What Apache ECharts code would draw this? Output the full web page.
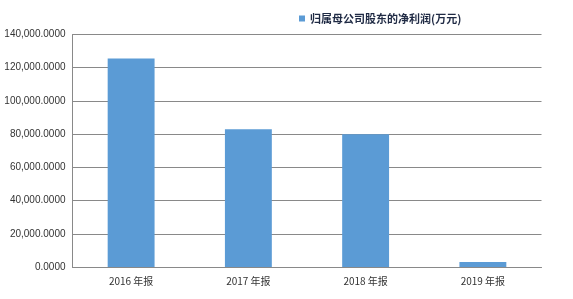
<!DOCTYPE html>
<html>
<head>
<meta charset="utf-8">
<script src="https://cdn.jsdelivr.net/npm/echarts@6/dist/echarts.min.js"></script>
<style>html,body{margin:0;padding:0;background:#fff;}#c{width:573px;height:299px;}</style>
</head>
<body>
<div id="c"></div>
<script>
const categories = ['2016 年报', '2017 年报', '2018 年报', '2019 年报'];
const seriesName = '归属母公司股东的净利润(万元)';
const values = [125500, 83000, 80000, 3000];
const yTicks = { min: 0, max: 140000, interval: 20000 };

const chart = echarts.init(document.getElementById('c'));
chart.setOption({
  animation: false,
  legend: {
    data: [seriesName],
    left: 294, top: 8,
    itemWidth: 6, itemHeight: 6, itemGap: 5,
    icon: 'rect',
    textStyle: { fontSize: 11, fontWeight: 'bold', color: '#1f2a44', fontFamily: 'Noto Sans CJK SC' }
  },
  grid: { left: 72.5, right: 31.5, top: 34.5, bottom: 32 },
  xAxis: {
    type: 'category',
    data: categories,
    axisLine: { lineStyle: { color: '#898989', width: 1 } },
    axisTick: { show: false },
    axisLabel: { fontSize: 10, color: '#333', margin: 9, fontFamily: 'Noto Sans CJK SC' }
  },
  yAxis: {
    type: 'value',
    min: yTicks.min, max: yTicks.max, interval: yTicks.interval,
    axisLine: { show: true, lineStyle: { color: '#898989' } },
    axisTick: { show: false },
    splitLine: { lineStyle: { color: '#898989', width: 1 } },
    axisLabel: {
      fontSize: 10, color: '#333', margin: 7, fontFamily: 'Liberation Sans',
      formatter: v => v.toLocaleString('en-US', { minimumFractionDigits: 4, maximumFractionDigits: 4 })
    }
  },
  series: [{
    name: seriesName,
    type: 'bar',
    data: values,
    barWidth: '40%',
    itemStyle: { color: '#5b9bd5' }
  }]
});
</script>
</body>
</html>
